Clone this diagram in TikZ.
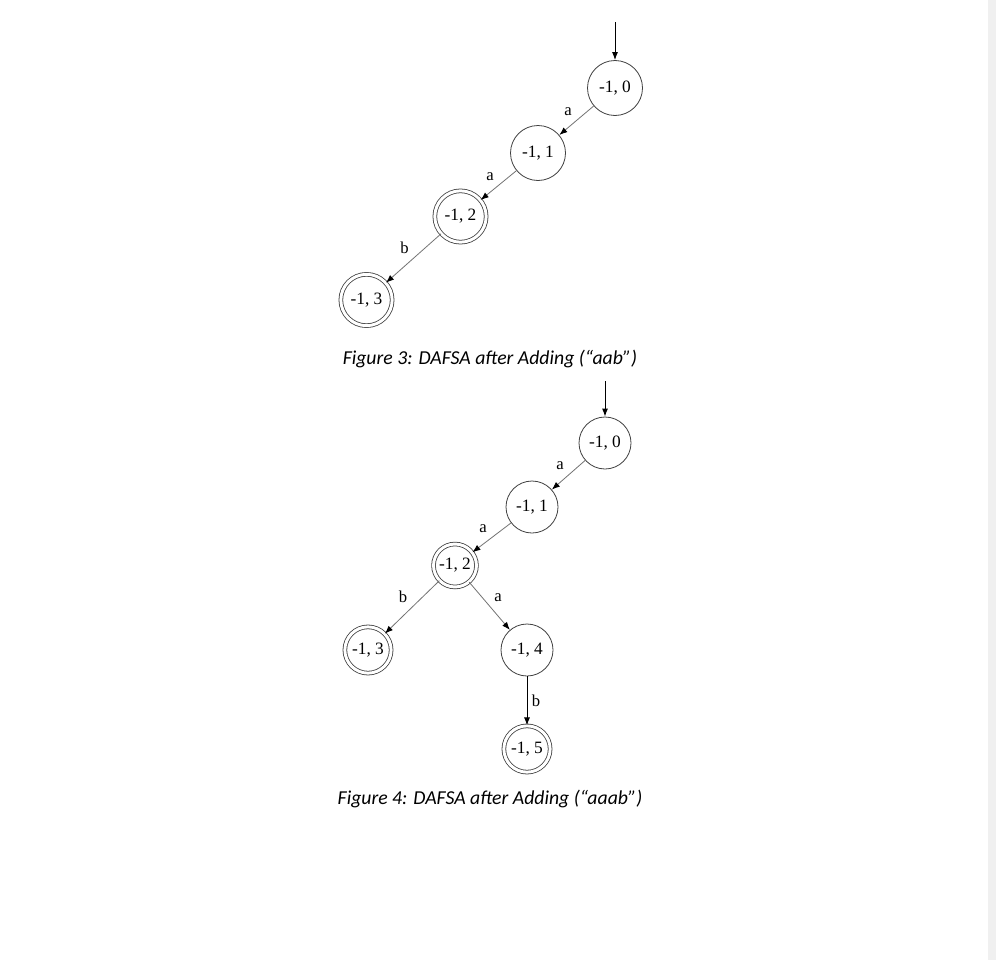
\documentclass[tikz,border=0pt]{standalone}
\usepackage{fontspec}
\setmainfont{Liberation Serif}
\newfontfamily\capfont{Carlito}
\usetikzlibrary{arrows.meta}

\begin{document}
\begin{tikzpicture}[x=0.75pt,y=-0.75pt,
  state/.style={circle,draw=black!75,line width=0.6pt,inner sep=0pt,font=\fontsize{13}{15}\selectfont},
  plain3/.style={state,minimum size=41.25pt},
  final3/.style={state,double,double distance=2.2pt,minimum size=38.5pt},
  plain4/.style={state,minimum size=39pt},
  final4/.style={state,double,double distance=2.2pt,minimum size=34.7pt},
  trans/.style={-{Latex[length=6pt,width=4.5pt,color=black]},draw=black!55,line width=0.6pt},
  lbl/.style={font=\fontsize{12.5}{14}\selectfont},
  caption/.style={anchor=base,font=\capfont\itshape\fontsize{14.8}{18}\selectfont}]
\useasboundingbox (0,0) rectangle (996,960);
\fill[white] (0,0) rectangle (996,960);
\fill[black!6] (988,0) rectangle (996,960);

% Figure 3
\coordinate (start3) at (615,22);
\node (a0) [plain3] at (615,88) {-1, 0};
\node (a1) [plain3] at (538,153) {-1, 1};
\node (a2) [final3] at (460.5,216.5) {-1, 2};
\node (a3) [final3] at (366.5,300) {-1, 3};
%
\draw[trans,draw=black,line width=0.75pt] (start3) -- (a0);
\path[trans] (a0) edge node[above left,lbl] {a} (a1);
\path[trans] (a1) edge node[above left,lbl] {a} (a2);
\path[trans] (a2) edge node[above left,lbl] {b} (a3);
\node (cap3) [caption] at (490,364) {Figure 3: DAFSA after Adding (“aab”)};

% Figure 4
\coordinate (start4) at (605,381);
\node (b0) [plain4] at (605,443) {-1, 0};
\node (b1) [plain4] at (532,507) {-1, 1};
\node (b2) [final4,minimum size=32.2pt] at (455,565.5) {-1, 2};
\node (b3) [final4] at (368,650) {-1, 3};
\node (b4) [plain4] at (527,650) {-1, 4};
\node (b5) [final4] at (527,749) {-1, 5};
%
\draw[trans,draw=black,line width=0.75pt] (start4) -- (b0);
\path[trans] (b0) edge node[above left,lbl] {a} (b1);
\path[trans] (b1) edge node[above left,lbl] {a} (b2);
\path[trans] (b2) edge node[above left,lbl] {b} (b3);
\path[trans] (b2) edge node[above right,lbl] {a} (b4);
\path[trans,draw=black,line width=0.75pt] (b4) edge node[right,lbl] {b} (b5);
\node (cap4) [caption] at (490,804) {Figure 4: DAFSA after Adding (“aaab”)};
\end{tikzpicture}
\end{document}
